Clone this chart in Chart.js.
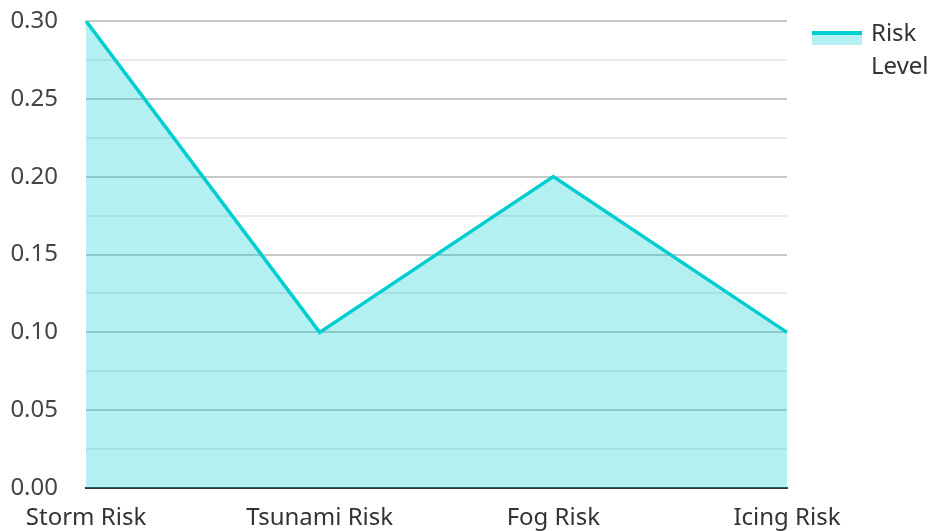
<!DOCTYPE html>
<html>
<head>
<meta charset="utf-8">
<script src="https://cdn.jsdelivr.net/npm/chart.js@4"></script>
<style>
  html, body { margin: 0; padding: 0; background: #fff; }
  #wrap { width: 931px; height: 531px; }
</style>
</head>
<body>
<div id="wrap"><canvas id="riskChart"></canvas></div>
<script>
const categories = ['Storm Risk', 'Tsunami Risk', 'Fog Risk', 'Icing Risk'];
const riskLevel = [0.30, 0.10, 0.20, 0.10];
const seriesName = ['Risk', 'Level'];

const lineColor = '#00CED1';
const fillColor = 'rgba(0, 206, 209, 0.3)';

// legend drawn by hand so the label can wrap on two lines
const legendRight = {
    id: 'legendRight',
    afterDraw(chart) {
        const ctx = chart.ctx;
        ctx.save();
        ctx.fillStyle = fillColor;
        ctx.fillRect(812, 31, 50, 14);
        ctx.fillStyle = lineColor;
        ctx.fillRect(812, 31, 50, 4);
        ctx.fillStyle = '#333';
        ctx.font = '24px "Noto Sans"';
        ctx.textBaseline = 'middle';
        ctx.textAlign = 'left';
        seriesName.forEach((t, i) => ctx.fillText(t, 871, 34 + i * 33));
        ctx.restore();
    }
};

new Chart(document.getElementById('riskChart'), {
    type: 'line',
    data: {
        labels: categories,
        datasets: [{
            label: seriesName.join(' '),
            data: riskLevel,
            borderColor: lineColor,
            backgroundColor: fillColor,
            borderWidth: 3.5,
            fill: 'origin',
            pointRadius: 0,
            tension: 0
        }]
    },
    options: {
        responsive: true,
        maintainAspectRatio: false,
        animation: false,
        layout: { padding: { left: 0, right: 144, top: 21, bottom: 0 } },
        plugins: {
            legend: { display: false },
            tooltip: { enabled: false }
        },
        scales: {
            x: {
                offset: false,
                grid: { display: false },
                border: { display: true, color: '#333', width: 2 },
                ticks: {
                    color: '#333',
                    font: { family: 'Noto Sans', size: 24 },
                    padding: 8,
                    maxRotation: 0,
                    autoSkip: false
                },
                afterFit(scale) {
                    scale.height = 43;
                    scale.paddingLeft = 0;
                    scale.paddingRight = 0;
                }
            },
            y: {
                min: 0,
                max: 0.3,
                border: { display: false },
                grid: {
                    drawTicks: false,
                    color(ctx) {
                        const v = Math.round(ctx.tick.value * 1000);
                        return v % 50 === 0 ? '#c8c8c8' : '#ebebeb';
                    },
                    lineWidth: 2
                },
                ticks: {
                    stepSize: 0.025,
                    color: '#444',
                    font: { family: 'Noto Sans', size: 24 },
                    padding: 28,
                    callback(value) {
                        const v = Math.round(value * 1000);
                        return v % 50 === 0 ? value.toFixed(2) : '';
                    }
                },
                afterFit(scale) {
                    scale.width = 86;
                    scale.paddingTop = 0;
                    scale.paddingBottom = 0;
                }
            }
        }
    },
    plugins: [legendRight]
});
</script>
</body>
</html>
